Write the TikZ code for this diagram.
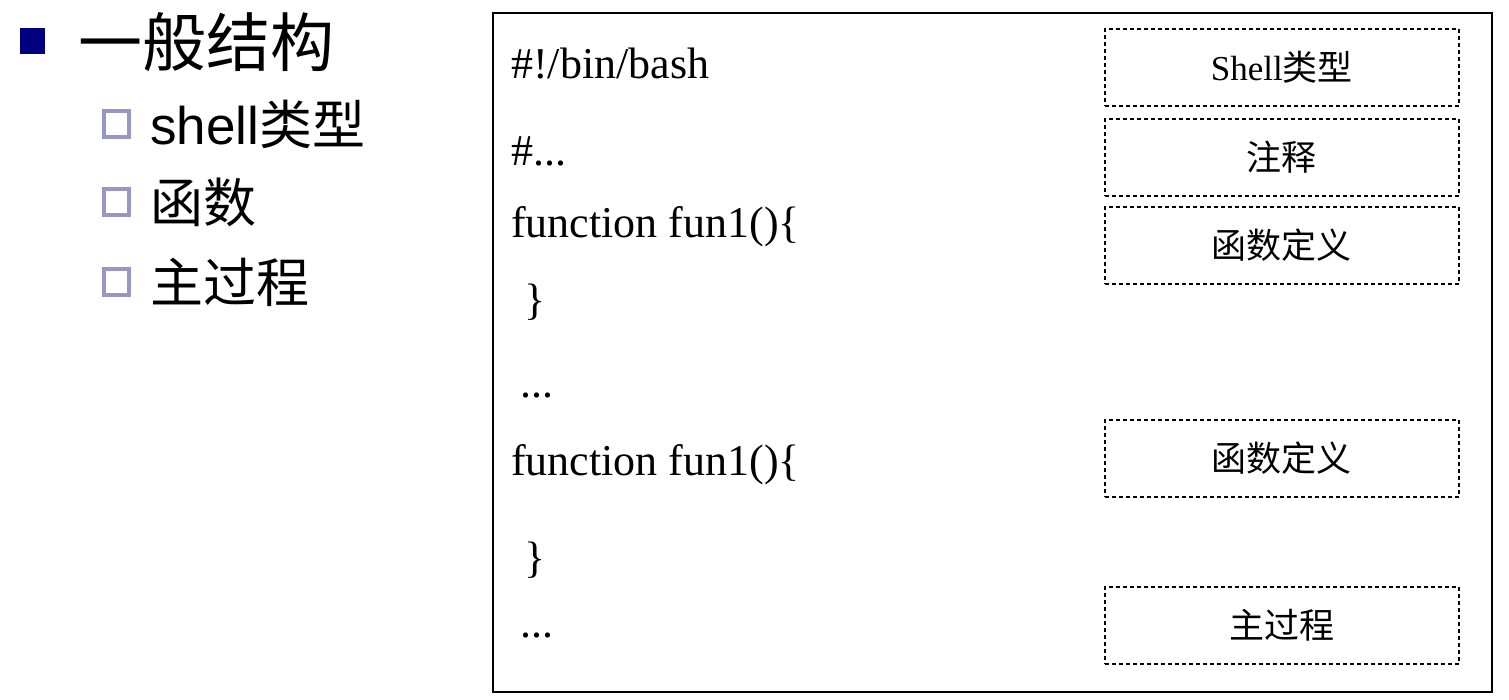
\documentclass[tikz,border=0pt]{standalone}
\usepackage{fontspec}
\setmainfont{Liberation Serif}
\newfontfamily\cjk{Noto Sans CJK SC}
\newfontfamily\sans{Liberation Sans}
\definecolor{navy}{RGB}{0,0,128}
\definecolor{lav}{RGB}{150,150,200}
\begin{document}
\begin{tikzpicture}[x=1pt,y=-1pt,
  code/.style={anchor=west,inner sep=0pt,font=\fontsize{44}{46}\selectfont},
  tag/.style={draw,dash pattern=on 4pt off 3pt,line width=1.6pt,minimum width=354pt,minimum height=77pt,anchor=north west,font=\fontsize{35}{37}\selectfont},
  sub/.style={anchor=west,inner sep=0pt,font=\fontsize{53}{55}\selectfont}]
\useasboundingbox (0,0) rectangle (1509,700);
\fill[navy] (20,28) rectangle (45,54);
\node[anchor=west,inner sep=0pt,font=\cjk\fontsize{64}{66}\selectfont] (t) at (78,42) {一般结构};
\foreach \y/\n in {124/a,202/b,282/c}{\draw[lav,line width=3.5pt] (104,\y-13) rectangle (129,\y+13);}
\node[sub] (a) at (150,124) {{\sans shell}{\cjk 类型}};
\node[sub] (b) at (150,202) {\cjk 函数};
\node[sub] (c) at (150,282) {\cjk 主过程};
\draw[line width=1.8pt] (493,13) rectangle (1492,692);
\node[code] (l1) at (511,64) {\#!/bin/bash};
\node[code] (l2) at (511,151) {\#...};
\node[code] (l3) at (511,227) {function fun1()\{};
\node[code] (l4) at (524,302) {\}};
\node[code] (l5) at (520,396) {...};
\node[code] (l6) at (511,465) {function fun1()\{};
\node[code] (l7) at (524,560) {\}};
\node[code] (l8) at (520,636) {...};
\node[tag] (k1) at (1104,28) {Shell{\cjk 类型}};
\node[tag] (k2) at (1104,118) {\cjk 注释};
\node[tag] (k3) at (1104,206) {\cjk 函数定义};
\node[tag] (k4) at (1104,419) {\cjk 函数定义};
\node[tag] (k5) at (1104,586) {\cjk 主过程};
\end{tikzpicture}
\end{document}
